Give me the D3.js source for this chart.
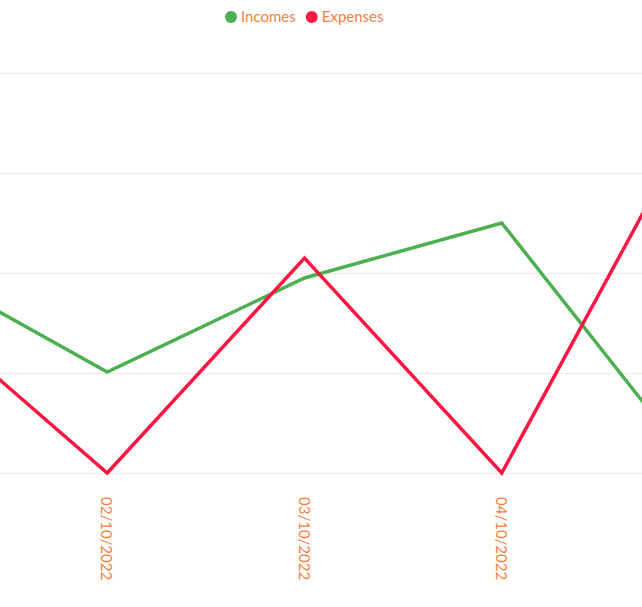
<!DOCTYPE html>
<html>
<head>
<meta charset="utf-8">
<script src="https://cdn.jsdelivr.net/npm/d3@7"></script>
<style>
  body { margin: 0; background: #fff; font-family: Lato, sans-serif; }
</style>
</head>
<body>
<svg id="chart" width="642" height="607"></svg>
<script>
var dates = ['01/10/2022', '02/10/2022', '03/10/2022', '04/10/2022', '05/10/2022'];
var incomes = [211, 101, 195, 250, 0];
var expenses = [171, 0, 215, 0, 363];
var series = [
    { name: 'Incomes', values: incomes, color: '#4caf50' },
    { name: 'Expenses', values: expenses, color: '#ff1744' }
];

var svg = d3.select('#chart');

// chart is wider than the window, ends are cut off
var x = d3.scalePoint().domain(dates).range([-90, 699]);
var y = d3.scaleLinear().domain([0, 400]).range([473, 73]);

// grid
svg.append('g').selectAll('line')
    .data(y.ticks(4))
    .enter().append('line')
    .attr('x1', 0).attr('x2', 642)
    .attr('y1', function (d) { return y(d) + 0.5; })
    .attr('y2', function (d) { return y(d) + 0.5; })
    .attr('stroke', '#ececec');

// x labels (only the ones inside the window)
svg.append('g').selectAll('text')
    .data(dates.filter(function (d) { return x(d) > 0 && x(d) < 642; }))
    .enter().append('text')
    .attr('transform', function (d) { return 'translate(' + (x(d) - 6) + ',497) rotate(90)'; })
    .attr('font-size', 15)
    .attr('fill', '#f5813f')
    .text(function (d) { return d; });

var line = d3.line()
    .x(function (d, i) { return x(dates[i]); })
    .y(function (d) { return y(d); });

svg.append('g').selectAll('path')
    .data(series)
    .enter().append('path')
    .attr('d', function (s) { return line(s.values); })
    .attr('fill', 'none')
    .attr('stroke', function (s) { return s.color; })
    .attr('stroke-width', 3.5);

// legend
var legend = svg.append('g').attr('transform', 'translate(225,17)');
var lx = 0;
series.forEach(function (s) {
    var g = legend.append('g').attr('transform', 'translate(' + lx + ',0)');
    g.append('circle').attr('cx', 6).attr('cy', 0).attr('r', 6).attr('fill', s.color);
    var t = g.append('text').attr('x', 16).attr('y', 5)
        .attr('font-size', 15).attr('fill', '#f5813f').text(s.name);
    lx += 16 + t.node().getComputedTextLength() + 10;
});
</script>
</body>
</html>
